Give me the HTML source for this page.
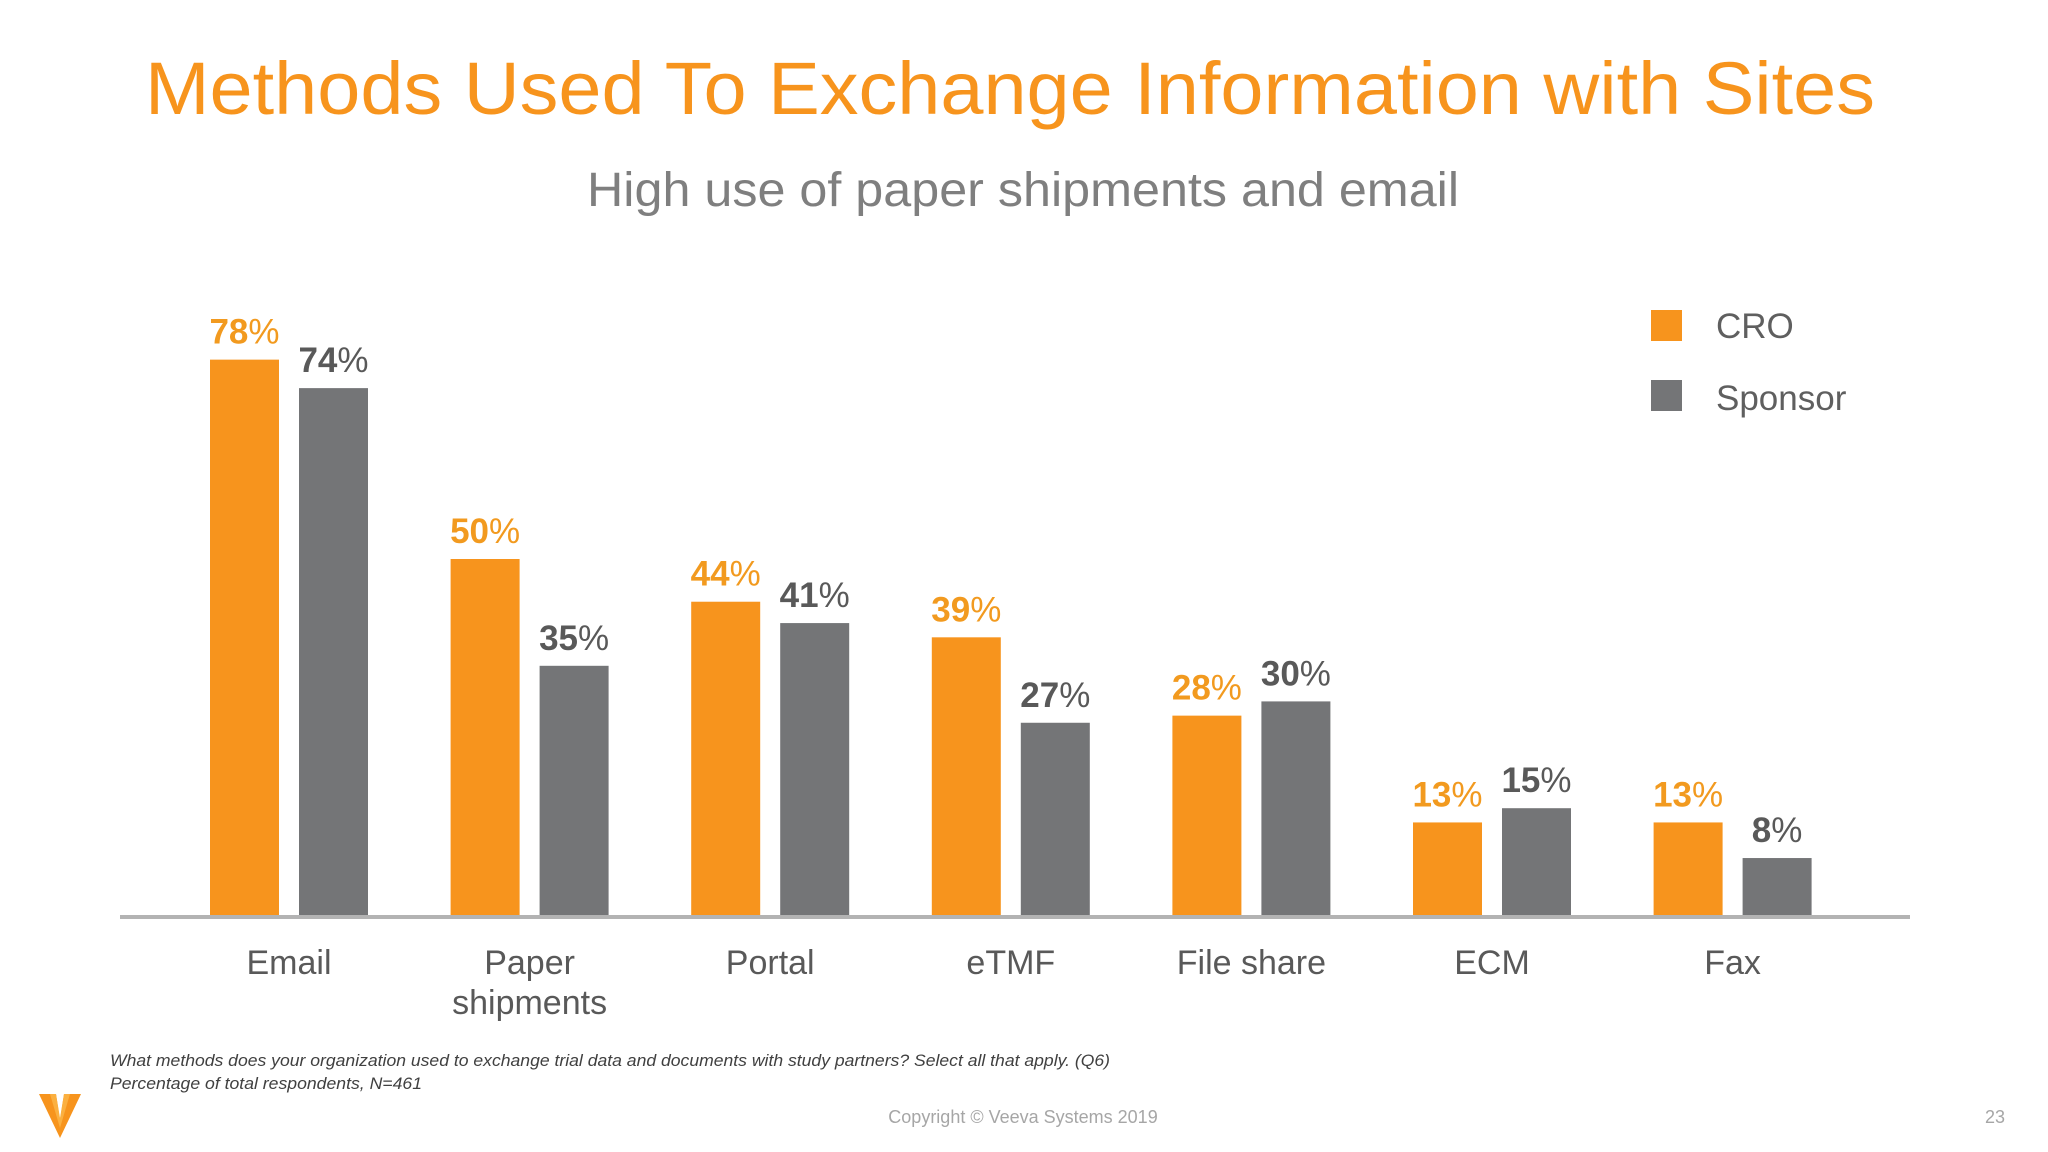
<!DOCTYPE html>
<html><head><meta charset="utf-8"><style>
html,body{margin:0;padding:0;background:#fff;}
svg{display:block;}
</style></head><body>
<svg id="chart" width="2048" height="1152" viewBox="0 0 2048 1152" xmlns="http://www.w3.org/2000/svg" font-family="'Liberation Sans', sans-serif">
<text x="1010" y="114" text-anchor="middle" font-size="74" fill="#F7941D" textLength="1730" lengthAdjust="spacingAndGlyphs">Methods Used To Exchange Information with Sites</text>
<text x="1023" y="206" text-anchor="middle" font-size="48" fill="#7f7f7f" textLength="872" lengthAdjust="spacingAndGlyphs">High use of paper shipments and email</text>
<g id="bars"></g>
<line x1="120" y1="917" x2="1910" y2="917" stroke="#b3b3b3" stroke-width="4"/>
<g>
<rect x="1651" y="310" width="31" height="31" fill="#F7941D"/>
<text x="1716" y="338" font-size="35" fill="#5f5f5f">CRO</text>
<rect x="1651" y="380" width="31" height="31" fill="#747577"/>
<text x="1716" y="410" font-size="35" fill="#5f5f5f">Sponsor</text>
</g>
<text x="110" y="1066" font-size="17" font-style="italic" fill="#404040" textLength="1000" lengthAdjust="spacingAndGlyphs">What methods does your organization used to exchange trial data and documents with study partners? Select all that apply. (Q6)</text>
<text x="110" y="1089" font-size="17" font-style="italic" fill="#404040" textLength="312" lengthAdjust="spacingAndGlyphs">Percentage of  total respondents, N=461</text>
<text x="1023" y="1123" text-anchor="middle" font-size="18" fill="#a6a6a6">Copyright © Veeva Systems 2019</text>
<text x="1995" y="1123" text-anchor="middle" font-size="18" fill="#a6a6a6">23</text>
<g>
<polygon points="39,1094 56,1094 60,1120 64,1094 81,1094 60,1138" fill="#F7941D"/>
<polygon points="50,1094 56,1094 60,1118 64,1094 70,1094 60,1128" fill="#FBB040"/>
</g>
</svg>
<script>
const categories = ["Email", "Paper|shipments", "Portal", "eTMF", "File share", "ECM", "Fax"];
const croValues = [78, 50, 44, 39, 28, 13, 13];
const sponsorValues = [74, 35, 41, 27, 30, 15, 8];

const NS = "http://www.w3.org/2000/svg";
const g = document.getElementById("bars");
const baseY = 915, pxPerPct = 7.12;
const firstCenter = 289, step = 240.6, barW = 69, gap = 20;
function yScale(v){ return baseY - v * pxPerPct; }
function xCenter(i){ return firstCenter + i * step; }
function mk(tag, attrs){ const e = document.createElementNS(NS, tag); for (const k in attrs) e.setAttribute(k, attrs[k]); return e; }
function addLabel(x, v, color, name){
  const t = mk("text", {x: x, y: yScale(v) - 16, "text-anchor": "middle", "font-size": 35, fill: color});
  
  
  const n = mk("tspan", {"font-weight": "bold"}); n.textContent = v;
  const p = mk("tspan", {}); p.textContent = "%";
  t.appendChild(n); t.appendChild(p);
  g.appendChild(t);
}
categories.forEach((cat, i) => {
  const c = xCenter(i);
  const cx = c - gap/2 - barW, sx = c + gap/2;
  const r1 = mk("rect", {x: cx, y: yScale(croValues[i]), width: barW, height: baseY - yScale(croValues[i]), fill: "#F7941D"});
  
  
  g.appendChild(r1);
  const r2 = mk("rect", {x: sx, y: yScale(sponsorValues[i]), width: barW, height: baseY - yScale(sponsorValues[i]), fill: "#747577"});
  
  
  g.appendChild(r2);
  addLabel(cx + barW/2, croValues[i], "#F29A1F", 'value-label-cro');
  addLabel(sx + barW/2, sponsorValues[i], "#595959", 'value-label-sponsor');
  const lines = cat.split("|");
  lines.forEach((ln, j) => {
    const t = mk("text", {x: c, y: 974 + j * 40, "text-anchor": "middle", "font-size": 34, fill: "#595959"});
    
    
    t.textContent = ln;
    g.appendChild(t);
  });
});
</script>
</body></html>
